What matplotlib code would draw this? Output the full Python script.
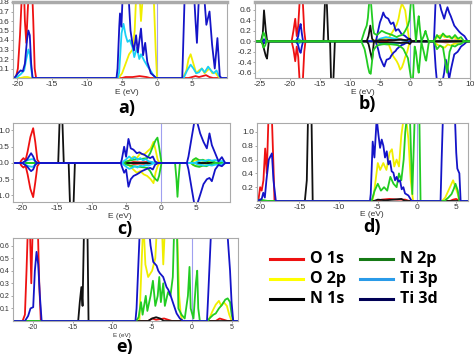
import matplotlib.pyplot as plt

plt.rcParams['font.family'] = ['Liberation Sans', 'DejaVu Sans']
plt.rcParams['axes.unicode_minus'] = False

W, H = 474, 354

# colours of the curves
C_O1S = '#ee1111'
C_O2P = '#f0ee00'
C_N1S = '#111111'
C_N2P = '#22cc22'
C_TI3P = '#1ad0f5'
C_TI3D = '#1414c8'

# ---------- a) (E, DOS) ----------
a_o1s = [(-20.6,0),(-20.2,0),(-19.9,0.1),(-19.6,0.45),(-19.35,0.85),(-19.1,1.1),(-18.9,0.6),(-18.7,0.37),
         (-18.5,0.7),(-18.2,1.1),(-17.9,1.0),(-17.7,0.6),(-17.5,0.1),(-17.3,0),(-5.0,0),(-4.5,0.01),(-3.5,0.01),
         (-2.5,0.02),(-1.5,0.01),(-1.0,0),(4.5,0),(5.0,0.01),(5.5,0.02),(6.0,0.01),(6.5,0.02),(7.0,0.03),
         (7.5,0.01),(8.0,0),(10.0,0)]
a_o2p = [(-20.6,0),(-19.5,0),(-19.0,0.01),(-18.5,0.01),(-18.0,0),(-5.5,0),(-5.0,0.05),(-4.5,0.15),(-4.0,0.25),
         (-3.5,0.3),(-3.2,0.5),(-3.0,0.85),(-2.6,1.0),(-2.3,0.6),(-2.0,0.9),(-1.6,1.0),(-1.2,1.0),(-0.8,1.0),
         (-0.5,0.9),(-0.2,0.3),(0.0,0),(3.7,0),(4.2,0.08),(4.5,0.2),(4.8,0.25),(5.2,0.15),(5.6,0.05),(6.0,0.08),
         (6.4,0.1),(6.8,0.05),(7.2,0.08),(7.5,0.1),(7.9,0.05),(8.3,0.06),(8.7,0.02),(9.0,0),(10.0,0)]
a_ti3p = [(-20.6,0),(-20.0,0.01),(-19.5,0.04),(-19.0,0.08),(-18.7,0.2),(-18.4,0.3),(-18.2,0.25),(-18.0,0.1),
          (-17.8,0),(-5.6,0),(-5.42,0.06),(-5.08,0.47),(-4.8,0.57),(-4.5,0.45),(-4.22,0.38),(-3.9,0.4),
          (-3.5,0.32),(-3.26,0.22),(-2.88,0.32),(-2.54,0.2),(-2.3,0.25),(-1.82,0.18),(-1.34,0.12),(-0.86,0.07),
          (-0.38,0.01),(0.0,0),(3.8,0),(4.3,0.08),(4.8,0.14),(5.2,0.1),(5.6,0.05),(6.0,0.06),(6.4,0.1),
          (6.8,0.06),(7.3,0.12),(7.7,0.08),(8.1,0.05),(8.5,0.08),(8.8,0.03),(9.1,0),(10.0,0)]
a_ti3d = [(-20.6,0),(-20.3,0.01),(-19.9,0.05),(-19.5,0.08),(-19.2,0.07),(-18.9,0.15),(-18.6,0.4),(-18.4,0.5),
          (-18.2,0.45),(-18.0,0.15),(-17.8,0),(-5.8,0),(-5.65,0.1),(-5.4,0.55),(-5.3,0.68),(-5.1,0.54),
          (-4.9,0.9),(-4.5,1.0),(-4.1,0.9),(-3.8,0.5),(-3.5,0.35),(-3.3,0.29),(-3.0,0.45),(-2.75,0.27),
          (-2.3,0.52),(-2.0,0.24),(-1.7,0.37),(-1.4,0.17),(-1.1,0.1),(-0.9,0.05),(-0.4,0.02),(-0.15,0),
          (3.6,0),(3.8,0.5),(4.0,1.0),(5.2,1.0),(5.5,0.6),(5.7,0.37),(5.95,0.8),(6.3,1.0),(6.7,0.9),
          (7.05,0.56),(7.5,0.7),(7.87,0.35),(8.25,0.1),(8.63,0.42),(8.97,0.02),(9.2,0),(10.0,0)]

# ---------- b) (E, spin up, spin down) ----------
b_n1s = [(-25.8,0,0),(-24.8,0,0),(-24.5,0.15,-0.05),(-24.3,0.59,-0.15),(-24.0,0.2,-0.28),(-23.8,0.02,-0.33),
         (-23.5,0,0),(-14.4,0,0),(-14.1,0.9,0),(-13.9,0.9,0),(-13.6,0,0),(-13.3,0,0),(-13.1,0,-0.9),
         (-12.8,0,-0.9),(-12.5,0,0),(-7.2,0,0),(-6.9,0.1,-0.05),(-6.6,0.3,-0.2),(-6.3,0.05,-0.35),(-6.0,0,0),
         (-5.0,0.02,-0.02),(-3.0,0.02,-0.02),(-1.5,0.03,-0.03),(-0.5,0.02,-0.02),(0.0,0.05,-0.05),(0.3,0,0),
         (10.0,0,0)]
b_o1s = [(-25.8,0,0),(-19.7,0,0),(-19.4,0.2,-0.15),(-19.1,0.43,-0.38),(-18.85,0.1,-0.1),(-18.6,0.3,-0.3),
         (-18.3,0.9,-0.9),(-17.9,0.9,-0.9),(-17.6,0.2,-0.2),(-17.4,0,0),(-4.0,0,0),(-3.5,0.03,-0.02),
         (-2.5,0.02,-0.03),(-2.0,0.05,-0.04),(-1.5,0.04,-0.03),(-0.8,0.02,-0.02),(0.0,0,0),(5.0,0.01,-0.01),
         (6.0,0.02,-0.02),(7.0,0.01,-0.01),(8.0,0.02,-0.01),(9.0,0,0),(10.0,0,0)]
b_o2p = [(-25.8,0,0),(-7.0,0,0),(-6.0,0.02,-0.02),(-5.0,0.04,-0.04),(-4.2,0.05,-0.05),(-3.5,0.07,-0.07),
         (-2.8,0.2,-0.28),(-2.2,0.32,-0.38),(-1.9,0.43,-0.45),(-1.63,0.6,-0.54),(-1.35,0.72,-0.5),
         (-1.07,0.66,-0.41),(-0.79,0.59,-0.3),(-0.45,0.3,-0.2),(-0.2,0.08,-0.08),(0.06,0,0),(3.8,0,0),
         (4.3,0.05,-0.04),(4.8,0.1,-0.08),(5.3,0.12,-0.1),(5.8,0.08,-0.12),(6.3,0.1,-0.06),(6.8,0.06,-0.08),
         (7.3,0.08,-0.05),(7.8,0.05,-0.04),(8.3,0.03,-0.02),(8.8,0,0),(10.0,0,0)]
b_ti3p = [(-25.8,0,0),(-24.6,0,0),(-24.3,0.03,-0.03),(-24.0,0,0),(-19.2,0,0),(-18.6,0.05,-0.05),(-18.0,0,0),
          (-5.5,0,0),(-5.0,0.05,-0.04),(-4.0,0.08,-0.06),(-3.0,0.06,-0.05),(-2.0,0.04,-0.04),(-1.0,0.02,-0.02),
          (0.0,0,0),(10.0,0,0)]
b_ti3d = [(-25.8,0,0),(-24.6,0,0),(-24.3,0.04,-0.04),(-24.0,0,0),(-18.9,0,0),(-18.6,0.1,-0.08),
          (-18.4,0.25,-0.18),(-18.2,0.33,-0.22),(-18.0,0.15,-0.1),(-17.8,0,0),(-5.7,0,0),(-5.57,0.05,-0.05),
          (-5.3,0.2,-0.15),(-5.0,0.36,-0.3),(-4.7,0.45,-0.38),(-4.44,0.55,-0.45),(-4.27,0.5,-0.48),
          (-4.05,0.46,-0.4),(-3.88,0.45,-0.35),(-3.6,0.43,-0.34),(-3.32,0.36,-0.32),(-3.15,0.33,-0.28),
          (-2.76,0.36,-0.22),(-2.36,0.2,-0.18),(-2.2,0.22,-0.15),(-1.91,0.23,-0.12),(-1.63,0.18,-0.09),
          (-1.35,0.13,-0.07),(-1.07,0.12,-0.06),(-0.79,0.1,-0.04),(-0.51,0.07,-0.03),(-0.23,0.05,-0.01),
          (0.17,0,0),(4.0,0,0),(4.28,0.8,-0.5),(4.6,0.9,-0.9),(5.2,0.6,-0.9),(5.7,0.43,-0.6),(5.97,0.55,-0.35),
          (6.25,0.65,-0.5),(6.53,0.55,-0.72),(6.8,0.48,-0.55),(7.38,0.3,-0.25),(7.94,0.22,-0.2),
          (8.23,0.18,-0.15),(8.5,0.15,-0.1),(9.07,0.1,-0.05),(9.35,0.05,-0.02),(9.6,0,0),(10.0,0,0)]
b_n2p = [(-25.8,0,0),(-24.8,0,0),(-24.6,0.05,-0.04),(-24.4,0.17,-0.12),(-24.1,0.1,-0.08),(-23.9,0,0),
         (-8.1,0,0),(-7.55,0.2,-0.15),(-7.2,0.3,-0.35),(-7.0,0.45,-0.48),(-6.75,0.8,-0.6),(-6.53,0.8,-0.62),
         (-6.14,0.24,-0.2),(-5.97,0.15,-0.15),(-5.5,0.12,-0.08),(-4.7,0.2,-0.06),(-4.0,0.16,-0.05),
         (-2.93,0.12,-0.06),(-2.2,0.08,-0.07),(-1.91,0.1,-0.08),(-1.35,0.12,-0.12),(-1.07,0.15,-0.15),
         (-0.79,0.2,-0.22),(-0.34,0.3,-0.32),(-0.1,0.4,-0.5),(0.2,0.8,-0.72),(0.5,0.8,-0.72),(0.79,0.3,-0.1),
         (1.0,0,-0.2),(1.35,0.4,-0.54),(1.46,0.48,-0.6),(1.7,0.2,-0.3),(1.91,0,-0.02),(2.3,0.1,-0.2),
         (2.59,0.2,-0.35),(2.7,0.15,-0.37),(3.1,0,-0.05),(3.27,0,0),(4.0,0,0),(4.5,0.12,-0.15),(5.0,0.05,-0.08),
         (5.5,0.15,-0.12),(5.9,0.1,-0.4),(6.2,0.08,-0.6),(6.6,0.1,-0.2),(7.0,0.05,-0.08),(7.5,0.12,-0.1),
         (8.0,0.05,-0.06),(8.5,0.08,-0.05),(9.0,0,0),(10.0,0,0)]

# ---------- c) (E, spin up, spin down) ----------
c_o1s = [(-21.3,0,0),(-20.3,0,0),(-20.1,0.08,-0.08),(-19.8,0.15,-0.14),(-19.5,0.08,-0.08),(-19.2,0.35,-0.35),
         (-18.8,0.8,-0.8),(-18.4,1.07,-1.05),(-18.1,0.65,-0.6),(-17.8,0.1,-0.1),(-17.5,0,0),(-4.5,0,0),
         (-4.0,0.03,-0.03),(-3.0,0.02,-0.02),(-2.0,0.03,-0.03),(-1.0,0,0),(9.9,0,0)]
c_o2p = [(-21.3,0,0),(-5.0,0,0),(-4.5,0.1,-0.1),(-4.0,0.2,-0.2),(-3.5,0.15,-0.3),(-3.0,0.3,-0.25),
         (-2.5,0.25,-0.35),(-2.0,0.35,-0.4),(-1.5,0.45,-0.5),(-1.1,0.65,-0.62),(-0.8,0.4,-0.3),(-0.5,0.1,-0.1),
         (-0.2,0,0),(4.2,0,0),(4.8,0.08,-0.08),(5.4,0.1,-0.1),(6.0,0.06,-0.08),(6.6,0.08,-0.05),
         (7.2,0.04,-0.04),(7.8,0,0),(9.9,0,0)]
c_n1s = [(-21.3,0,0),(-14.8,0,0),(-14.6,1.3,0),(-14.2,1.3,0),(-14.0,0,0),(-13.3,0,0),(-13.1,0,-1.3),
         (-12.6,0,-1.3),(-12.4,0,0),(9.9,0,0)]
c_n2p = [(-21.3,0,0),(-5.5,0,0),(-5.0,0.05,-0.05),(-4.0,0.1,-0.1),(-3.0,0.12,-0.12),(-2.0,0.15,-0.15),
         (-1.58,0.3,-0.25),(-1.2,0.5,-0.4),(-0.8,0.7,-0.5),(-0.53,0.78,-0.55),(-0.3,0.5,-0.4),(0.05,0,0),
         (2.0,0,0),(2.2,0,-0.5),(2.35,0,-1.04),(2.5,0,-0.5),(2.7,0,0),(4.3,0,0),(4.6,0.1,-0.06),(5.0,0.15,-0.1),
         (5.5,0.08,-0.12),(6.0,0.1,-0.08),(6.5,0.05,-0.1),(7.0,0.08,-0.05),(8.0,0,0),(9.9,0,0)]
c_ti3p = [(-21.3,0,0),(-19.9,0,0),(-19.5,0.06,-0.06),(-19.0,0.1,-0.1),(-18.5,0.12,-0.12),(-18.0,0.04,-0.04),
          (-17.8,0,0),(-5.6,0,0),(-5.4,0.05,-0.05),(-5.0,0.12,-0.12),(-4.6,0.2,-0.18),(-4.2,0.12,-0.15),
          (-3.8,0.18,-0.1),(-3.4,0.1,-0.14),(-3.0,0.15,-0.08),(-2.6,0.08,-0.1),(-2.2,0.12,-0.06),
          (-1.8,0.05,-0.08),(-1.3,0.03,-0.03),(-0.8,0,0),(4.8,0,0),(5.3,0.05,-0.05),(5.8,0.08,-0.06),
          (6.3,0.06,-0.08),(6.8,0.1,-0.06),(7.3,0.07,-0.08),(7.8,0.09,-0.05),(8.3,0.05,-0.06),(8.8,0.06,-0.04),
          (9.3,0,0),(9.9,0,0)]
c_ti3d = [(-21.3,0,0),(-20.0,0,0),(-19.6,0.05,-0.05),(-19.3,0.1,-0.1),(-19.0,0.2,-0.18),(-18.7,0.3,-0.25),
          (-18.4,0.2,-0.2),(-18.1,0.05,-0.05),(-17.8,0,0),(-5.8,0,0),(-5.66,0.1,-0.1),(-5.32,0.5,-0.3),
          (-5.04,0.19,-0.2),(-4.7,0.74,-0.73),(-4.37,0.45,-0.5),(-3.98,0.41,-0.4),(-3.5,0.3,-0.35),
          (-3.12,0.33,-0.3),(-2.78,0.28,-0.25),(-2.45,0.26,-0.22),(-2.06,0.2,-0.18),(-1.58,0.15,-0.15),
          (-1.2,0.2,-0.2),(-0.86,0.04,-0.05),(-0.38,0,0),(3.7,0,0),(3.93,0.2,-0.2),(4.4,0.8,-0.8),
          (4.8,1.3,-1.3),(5.13,1.3,-1.3),(5.61,0.91,-0.98),(6.09,0.65,-0.65),(6.57,0.45,-0.5),(6.95,0.91,-0.46),
          (7.29,0.55,-0.56),(7.77,0.3,-0.2),(8.25,0.05,-0.06),(8.73,0.18,-0.1),(9.2,0,0),(9.9,0,0)]

# ---------- d) (E, DOS) ----------
d_o1s = [(-20.4,0),(-20.2,0.03),(-20.0,0.2),(-19.8,0.15),(-19.58,0.3),(-19.36,0.76),(-19.15,0.4),(-18.94,1.2),
         (-18.5,1.2),(-18.3,0.5),(-18.17,0),(-5.0,0),(-4.5,0.02),(-3.5,0.03),(-2.5,0.02),(-1.5,0.02),(-1.0,0),
         (4.2,0),(4.6,0.02),(5.0,0.03),(5.4,0),(6.5,0)]
d_o2p = [(-20.4,0),(-5.7,0),(-5.5,0.1),(-5.0,0.55),(-4.7,0.45),(-4.3,0.55),(-3.9,0.45),(-3.5,0.7),(-3.2,0.75),
         (-2.9,0.5),(-2.6,0.6),(-2.3,0.5),(-2.0,0.95),(-1.7,1.2),(-1.4,1.2),(-1.1,0.9),(-0.8,0.3),(-0.5,0),
         (3.2,0),(3.6,0.05),(4.0,0.15),(4.4,0.25),(4.6,0.3),(4.9,0.2),(5.2,0.1),(5.4,0),(6.5,0)]
d_n1s = [(-20.4,0),(-14.3,0),(-14.05,0.3),(-13.9,1.2),(-13.45,1.2),(-13.3,0),(-5.5,0),(-5.0,0.02),(-4.0,0.01),
         (-3.0,0.02),(-2.0,0.03),(-1.5,0),(6.5,0)]
d_n2p = [(-20.4,0),(-20.0,0.02),(-19.5,0.01),(-19.0,0),(-5.8,0),(-5.4,0.15),(-5.0,0.25),(-4.6,0.15),(-4.2,0.2),
         (-3.8,0.15),(-3.4,0.35),(-3.0,0.25),(-2.6,0.2),(-2.3,0.4),(-2.0,0.3),(-1.7,0.6),(-1.5,1.0),(-1.3,1.2),
         (-0.9,1.2),(-0.6,0.1),(-0.3,1.2),(0.3,1.2),(0.45,0),(3.5,0),(4.0,0.05),(4.4,0.1),(4.7,0.18),(4.9,0.25),
         (5.2,0.15),(5.4,0),(6.5,0)]
d_ti3d = [(-20.4,0),(-19.8,0.03),(-19.6,0.12),(-19.4,0.05),(-19.2,0.3),(-18.9,0.6),(-18.5,0.69),(-18.3,0.3),
          (-18.0,0),(-6.0,0),(-5.9,0.1),(-5.65,0.86),(-5.43,0.63),(-5.14,1.2),(-4.92,0.96),(-4.71,0.77),
          (-4.5,0.89),(-4.29,0.8),(-4.08,0.63),(-3.86,0.72),(-3.65,0.53),(-3.44,0.58),(-3.23,0.43),(-3.01,0.41),
          (-2.8,0.3),(-2.59,0.35),(-2.38,0.28),(-2.17,0.3),(-1.95,0.17),(-1.74,0.2),(-1.53,0.11),(-1.1,0.08),
          (-0.68,0),(3.0,0),(3.14,0.6),(3.3,1.2),(4.84,1.2),(5.0,0.7),(5.14,0.47),(5.4,0.4),(5.56,0),(6.5,0)]

# ---------- e) (E, DOS) ----------
e_o1s = [(-22.5,0),(-21.3,0),(-21.0,0.05),(-20.8,0.4),(-20.6,0.8),(-20.4,0.8),(-20.2,0.3),(-20.0,0.8),
         (-19.4,0.8),(-19.2,0.3),(-19.0,0),(-5.5,0),(-5.0,0.02),(-4.5,0.01),(-3.5,0.02),(-2.5,0),(3.0,0),
         (3.5,0.02),(4.0,0.01),(4.5,0),(5.8,0)]
e_o2p = [(-22.5,0),(-6.6,0),(-6.3,0.5),(-6.1,0.8),(-5.85,0.45),(-5.5,0.35),(-5.0,0.4),(-4.6,0.5),(-4.35,0.8),
         (-3.8,0.8),(-3.6,0.45),(-3.35,0.8),(-1.9,0.8),(-1.6,0.2),(-1.4,0.05),(-1.2,0),(2.0,0),(2.2,0.02),
         (2.6,0.08),(3.0,0.13),(3.4,0.16),(3.7,0.12),(4.0,0.15),(4.4,0.12),(4.7,0.05),(5.0,0),(5.8,0)]
e_n1s = [(-22.5,0),(-14.3,0),(-14.1,0.15),(-13.9,0.27),(-13.75,0.12),(-13.55,0.8),(-13.15,0.8),(-13.0,0),
         (-5.5,0),(-5.0,0.02),(-4.5,0.03),(-4.0,0.02),(-3.5,0),(5.8,0)]
e_n2p = [(-22.5,0),(-7.0,0),(-6.7,0.03),(-6.4,0.15),(-6.2,0.05),(-5.8,0.2),(-5.6,0.08),(-5.2,0.2),(-4.9,0.32),
         (-4.6,0.12),(-4.3,0.2),(-4.1,0.35),(-3.9,0.15),(-3.6,0.3),(-3.4,0.12),(-3.0,0.23),(-2.7,0.2),
         (-2.4,0.35),(-2.2,0.8),(-1.9,0.8),(-1.7,0.1),(-1.3,0.05),(-0.9,0.02),(-0.5,0.2),(-0.3,0.43),
         (-0.15,0.1),(0.2,0.02),(0.5,0.3),(0.67,0.4),(0.8,0.1),(1.0,0),(2.0,0),(2.2,0.02),(2.7,0.05),(3.0,0.06),
         (3.4,0.1),(3.8,0.13),(4.2,0.17),(4.5,0.18),(4.8,0.15),(5.0,0.05),(5.2,0),(5.8,0)]
e_ti3d = [(-22.5,0),(-21.0,0),(-20.6,0.04),(-20.3,0.1),(-19.96,0.11),(-19.75,0.4),(-19.54,0.55),(-19.33,0.45),
          (-19.12,0.2),(-18.9,0),(-7.1,0),(-6.96,0.1),(-6.7,0.5),(-6.5,0.8),(-5.5,0.8),(-5.2,0.6),(-4.86,0.47),
          (-4.44,0.44),(-4.23,0.4),(-4.03,0.38),(-3.61,0.35),(-3.19,0.27),(-2.98,0.25),(-2.77,0.22),
          (-2.35,0.14),(-1.92,0.06),(-1.51,0.02),(-1.09,0),(1.9,0),(2.05,0.2),(2.47,0.8),(4.36,0.8),(4.8,0.4),
          (4.99,0.15),(5.2,0),(5.8,0)]

legend_labels = ['O 1s', 'O 2p', 'N 1s', 'N 2p', 'Ti 3p', 'Ti 3d']
legend_colors = ['#ee1111', '#ffff00', '#000000', '#157a15', '#2a9be8', '#000055']


def add_ax(fig, l, t, r, b):
    return fig.add_axes([l / W, 1 - b / H, (r - l) / W, (b - t) / H])


def frame(ax, xlim, ylim, xt, yt, fs=6, thick_top=False):
    ax.set_xlim(xlim)
    ax.set_ylim(ylim)
    ax.set_xticks(xt)
    ax.set_xticklabels([str(v) for v in xt])
    ax.set_yticks(yt)
    ax.set_yticklabels(['%.1f' % v for v in yt])
    ax.tick_params(labelsize=fs, length=1.5, width=0.6, pad=0.8, colors='#999999', labelcolor='#333333')
    for s in ax.spines.values():
        s.set_color('#aaaaaa')
        s.set_linewidth(0.8)
    if thick_top:
        ax.spines['top'].set_linewidth(2.5)
    ax.axvline(0, color='#a0a0f0', lw=0.8, zorder=0.5)


def line(ax, pts, c, lw=1.3):
    ax.plot([p[0] for p in pts], [p[1] for p in pts], color=c, lw=lw)


def spin(ax, pts, c, lw=1.3):
    ax.plot([p[0] for p in pts], [p[1] for p in pts], color=c, lw=lw)
    ax.plot([p[0] for p in pts], [p[2] for p in pts], color=c, lw=lw)


fig = plt.figure(figsize=(W / 100, H / 100), dpi=100)

# a)
ax = add_ax(fig, 13, 2, 227, 78)
line(ax, a_o1s, C_O1S)
line(ax, a_o2p, C_O2P)
line(ax, a_ti3p, C_TI3P)
line(ax, a_ti3d, C_TI3D)
frame(ax, (-20.6, 10.0), (0, 0.8), [-20, -15, -10, -5, 0, 5],
      [0.1, 0.2, 0.3, 0.4, 0.5, 0.6, 0.7, 0.8], thick_top=True)

# b)
ax = add_ax(fig, 255, 2, 470, 78)
spin(ax, b_o1s, C_O1S)
spin(ax, b_o2p, C_O2P)
spin(ax, b_ti3p, C_TI3P)
spin(ax, b_ti3d, C_TI3D)
spin(ax, b_n1s, C_N1S)
spin(ax, b_n2p, C_N2P)
frame(ax, (-25.8, 10.0), (-0.7, 0.75), [-25, -20, -15, -10, -5, 0, 5, 10],
      [-0.6, -0.4, -0.2, 0.0, 0.2, 0.4, 0.6], thick_top=True)

# c)
ax = add_ax(fig, 13, 123, 230, 202)
spin(ax, c_o1s, C_O1S)
spin(ax, c_o2p, C_O2P)
spin(ax, c_n1s, C_N1S)
spin(ax, c_n2p, C_N2P)
spin(ax, c_ti3p, C_TI3P)
spin(ax, c_ti3d, C_TI3D)
frame(ax, (-21.3, 9.9), (-1.2, 1.23), [-20, -15, -10, -5, 0, 5],
      [-1.0, -0.5, 0.0, 0.5, 1.0])

# d)
ax = add_ax(fig, 257, 123, 468, 201)
line(ax, d_o1s, C_O1S)
line(ax, d_o2p, C_O2P)
line(ax, d_n1s, C_N1S)
line(ax, d_n2p, C_N2P)
line(ax, d_ti3d, C_TI3D)
frame(ax, (-20.4, 6.5), (0, 1.13), [-20, -15, -10, -5, 0, 5],
      [0.2, 0.4, 0.6, 0.8, 1.0])

# e)
ax = add_ax(fig, 13, 238, 238, 321)
line(ax, e_o1s, C_O1S)
line(ax, e_o2p, C_O2P)
line(ax, e_n1s, C_N1S)
line(ax, e_n2p, C_N2P)
line(ax, e_ti3d, C_TI3D)
frame(ax, (-22.5, 5.8), (0, 0.66), [-20, -15, -10, -5, 0, 5],
      [0.1, 0.2, 0.3, 0.4, 0.5, 0.6], fs=5)

# axis titles and panel letters (pixel positions)
for x, y, fs in [(127, 93, 6), (363, 92, 6), (120, 216, 6), (372, 215, 6), (122, 336, 4.5)]:
    fig.text(x / W, 1 - y / H, 'E (eV)', fontsize=fs, color='#333333', ha='center', va='center')
for x, y, s in [(127, 108, 'a)'), (367, 104, 'b)'), (125, 229, 'c)'), (372, 227, 'd)'), (125, 347, 'e)')]:
    fig.text(x / W, 1 - y / H, s, fontsize=13, fontweight='bold', family=['Open Sans', 'DejaVu Sans'],
             ha='center', va='center')

# legend drawn by hand
for i, (lab, col) in enumerate(zip(legend_labels, legend_colors)):
    col_x = 270 if i < 3 else 360
    y = 1 - (259 + 20 * (i % 3)) / H
    fig.add_artist(plt.Line2D([col_x / W, (col_x + 33) / W], [y, y], color=col, lw=2.2))
    fig.text((col_x + 40) / W, y, lab, fontsize=11.5, fontweight='bold',
             family=['Open Sans', 'DejaVu Sans'], va='center', ha='left')

fig.savefig('out.png', dpi=100)
